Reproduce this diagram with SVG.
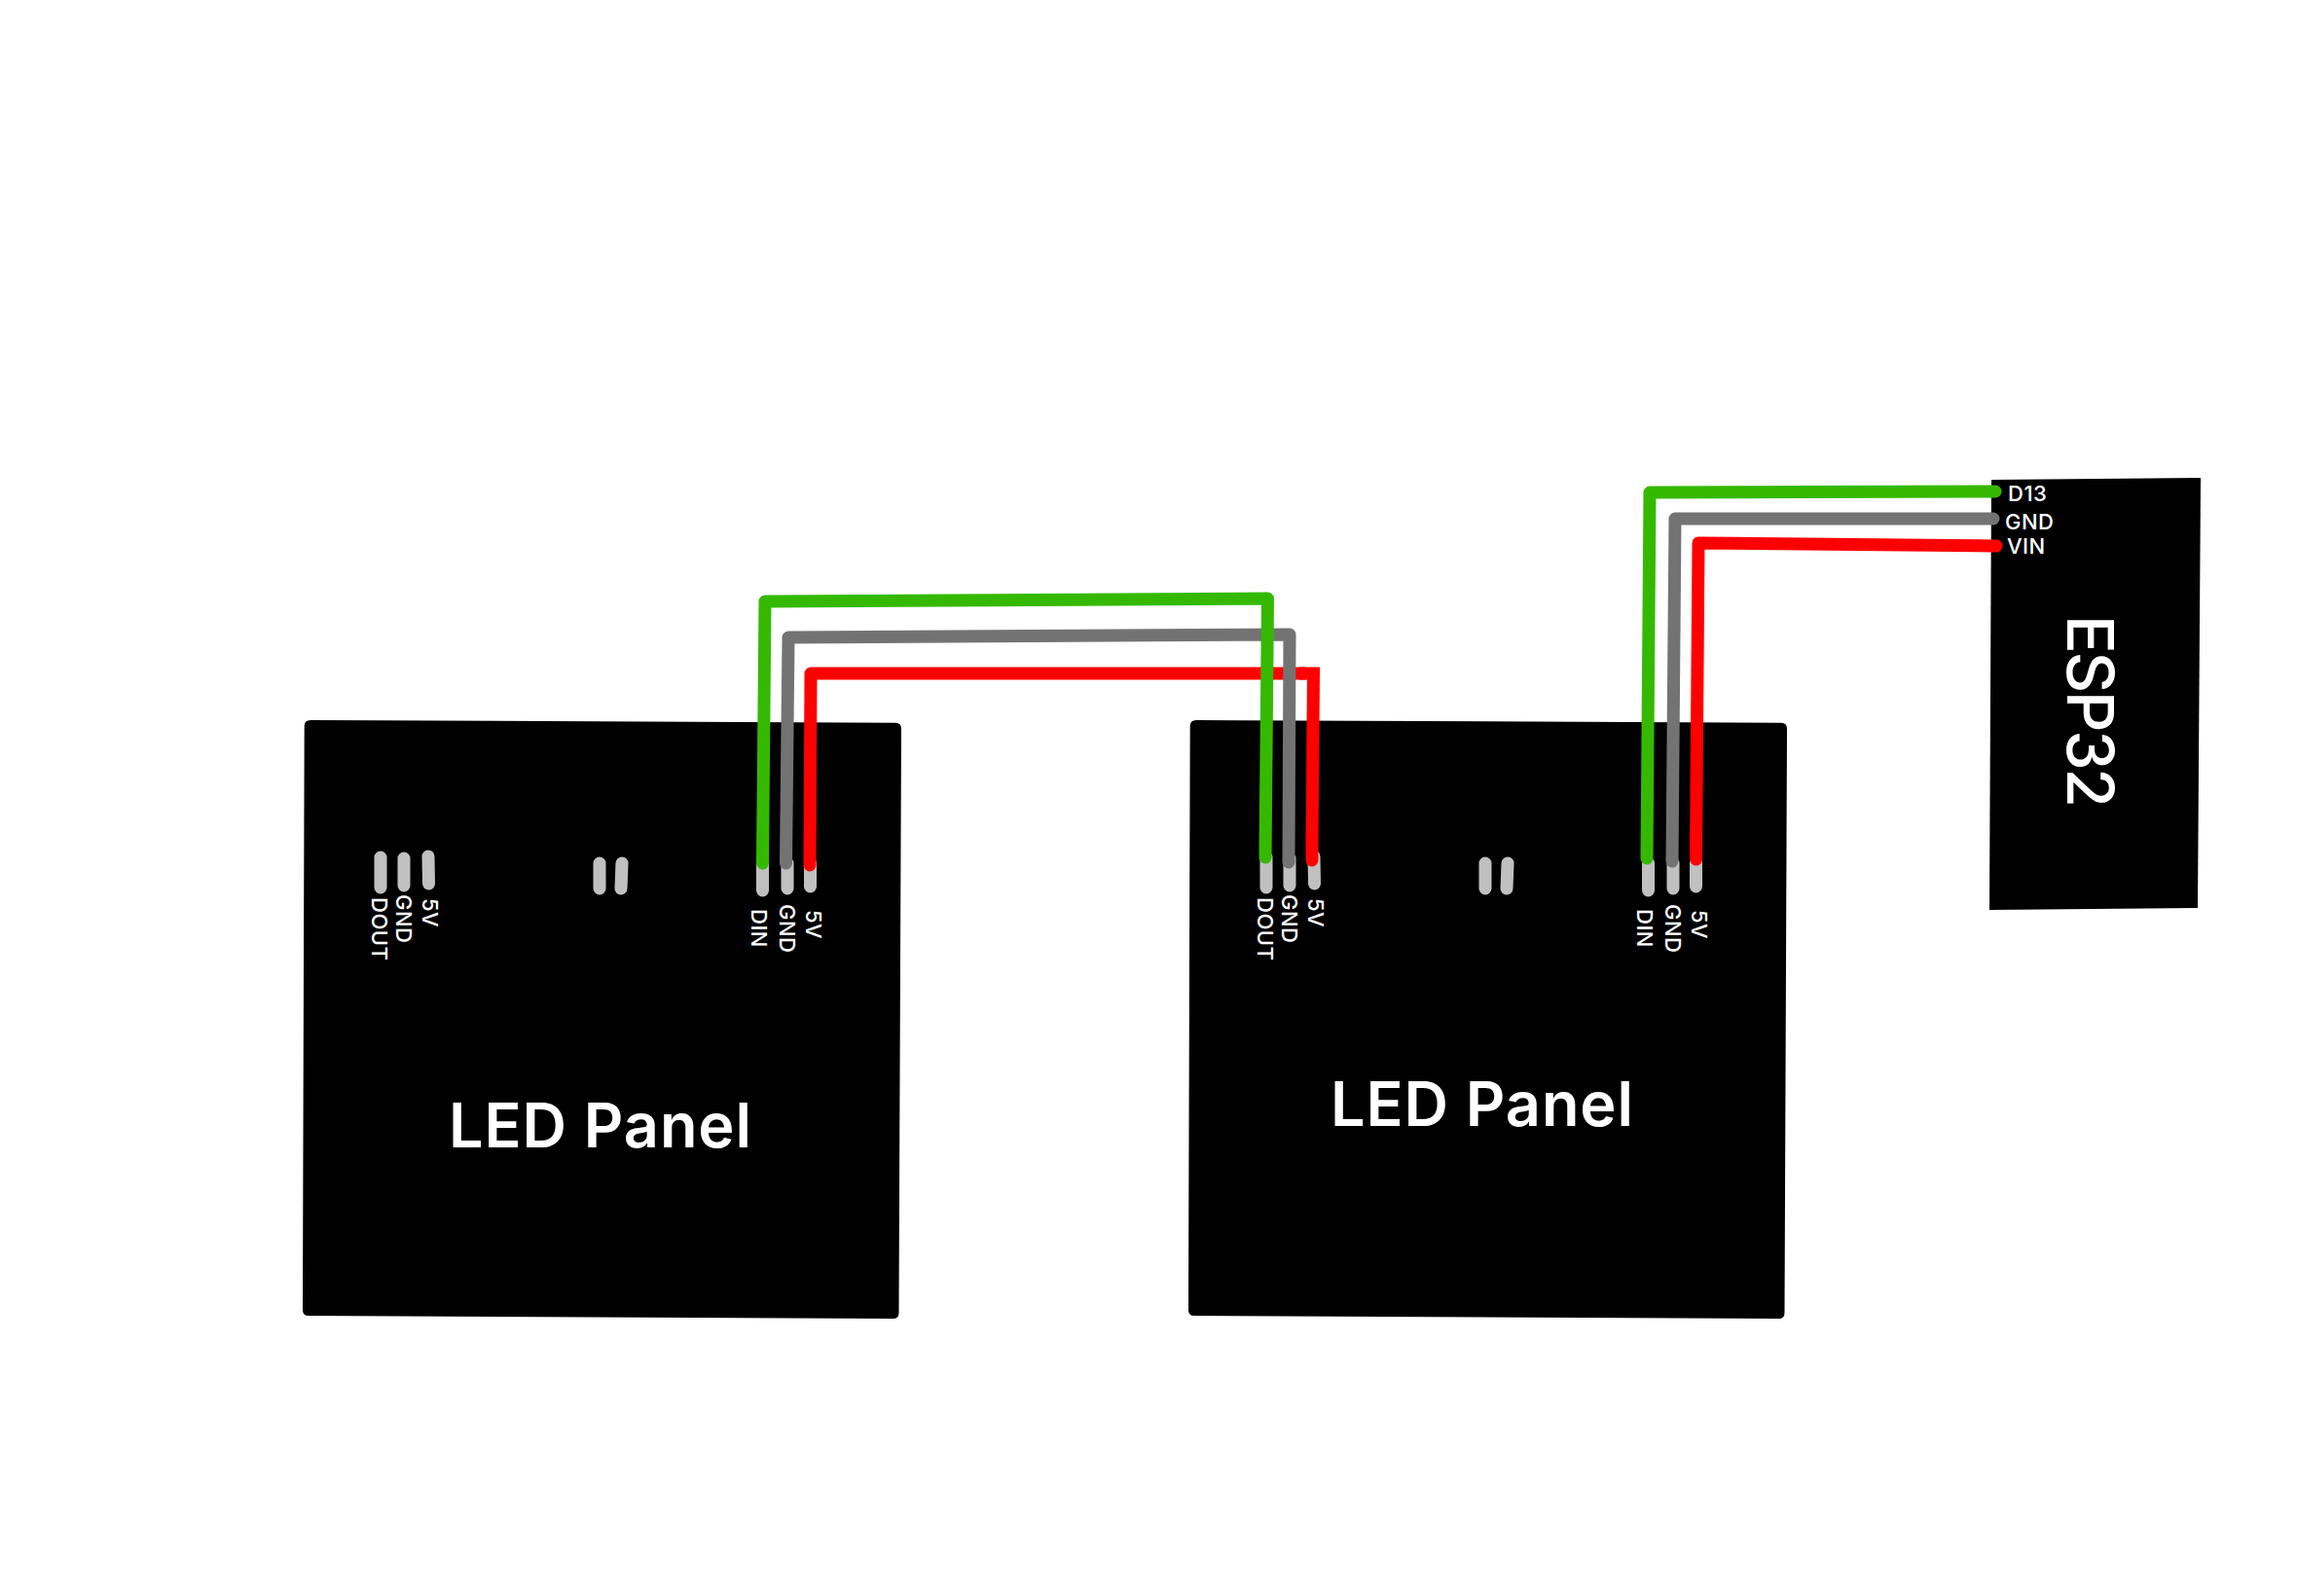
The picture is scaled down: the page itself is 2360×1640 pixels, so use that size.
<svg xmlns="http://www.w3.org/2000/svg" width="2360" height="1640" viewBox="0 0 2360 1640">
<style>
text{font-family:Inter,"Liberation Sans",sans-serif;fill:#fff}
.pin{font-size:22px;font-weight:500;letter-spacing:.5px}
.title{font-size:63px;font-weight:600}
.esp{font-size:66px;font-weight:500}
.p{fill:none;stroke:#c0c0c0;stroke-width:13;stroke-linecap:round}
.w{fill:none;stroke-width:13;stroke-linecap:round;stroke-linejoin:round}
.g{stroke:#35b900}.y{stroke:#737373}.r{stroke:#ff0000}
</style>
<defs>
<path id="board" d="M319 740 L920 742.7 Q926 742.7 926 749 L923.5 1349 Q923.5 1355 917.5 1355 L317 1352 Q311 1352 311 1346 L312.7 746 Q312.7 740 319 740 Z" fill="#000"/>
<g id="pins">
<path class="p" d="M391 881V912M415 882V910M440 880L440.5 908M616 887V913M639 887L638 913M783.5 887V915M809 887V913M832.5 887V911"/>
<text class="pin" transform="translate(382 922) rotate(90)">DOUT</text>
<text class="pin" transform="translate(407 919) rotate(90)">GND</text>
<text class="pin" transform="translate(434 923) rotate(90)">5V</text>
<text class="pin" transform="translate(772 934) rotate(90)">DIN</text>
<text class="pin" transform="translate(801 929) rotate(90)">GND</text>
<text class="pin" transform="translate(828 935) rotate(90)">5V</text>
</g>
</defs>
<rect width="2360" height="1640" fill="#fff"/>
<g id="led-panel-1">
<use href="#board"/><use href="#pins"/>
<text class="title" x="461" y="1179" textLength="311">LED Panel</text>
</g>
<g id="led-panel-2">
<use href="#board" x="910"/><use href="#pins" x="910"/>
<text class="title" x="1367" y="1157" textLength="311">LED Panel</text>
</g>
<g id="esp32">
<path d="M2046 493L2261 491L2258 933L2044 935Z" fill="#000"/>
<text class="pin" x="2063" y="515">D13</text>
<text class="pin" x="2060" y="544">GND</text>
<text class="pin" x="2062" y="569">VIN</text>
<text class="esp" transform="translate(2124 632) rotate(90)" textLength="198">ESP32</text>
</g>
<g id="connectors">
<path class="w r" d="M832 889L833 692L1340 692"/>
<path class="w r" style="stroke-linejoin:miter;stroke-linecap:butt" d="M1335 692L1349.5 692L1348 870"/>
<path class="w r" d="M1348 870L1348 884"/>
<path class="w y" d="M807.5 887L810 655L1325 652L1324 886"/>
<path class="w g" d="M783.5 887L786 618L1302.5 615L1300 881"/>
<path class="w r" d="M1742.5 883L1745 558L2051 561"/>
<path class="w y" d="M1718 885L1721 533L2048 533"/>
<path class="w g" d="M1692 882L1695 506L2050 505"/>
</g>
</svg>
